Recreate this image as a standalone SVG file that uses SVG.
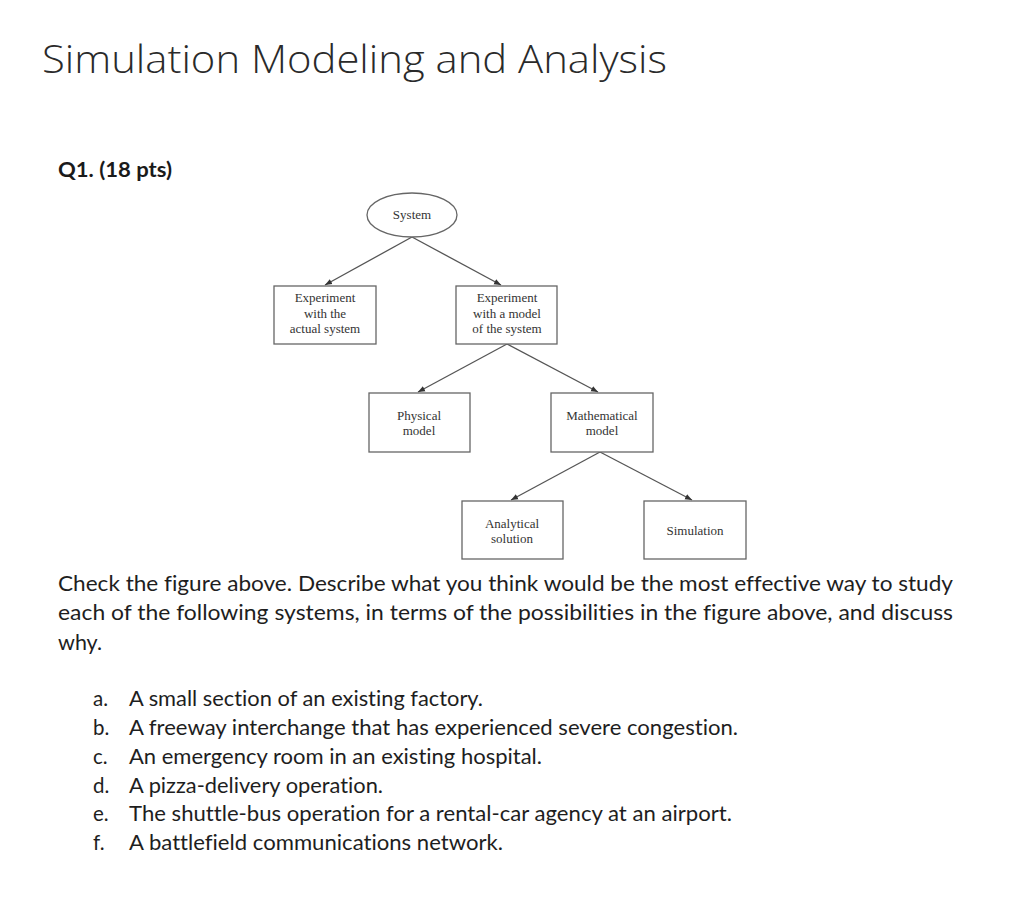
<svg xmlns="http://www.w3.org/2000/svg" width="1025" height="919" viewBox="0 0 1025 919">
<style>
.title{font-family:"Open Sans","Liberation Sans",sans-serif;font-weight:300;font-size:38px;fill:#2a2a2a}
.q{font-family:"Lato","Open Sans","Liberation Sans",sans-serif;font-weight:700;font-size:20px;fill:#1a1a1a}
.body{font-family:"Lato","Open Sans","Liberation Sans",sans-serif;font-size:20.5px;fill:#1e1e1e;font-variant-ligatures:none;font-feature-settings:"liga" 0,"dlig" 0}
.n{font-family:"Liberation Serif","Times New Roman",serif;font-size:13px;fill:#333;text-anchor:middle}
.box{fill:#fff;stroke:#666;stroke-width:1.3}
.edge{stroke:#555;stroke-width:1.3;fill:none;marker-end:url(#ah)}
</style>
<defs>
<marker id="ah" viewBox="0 0 10 10" refX="10" refY="5" markerWidth="7" markerHeight="7" markerUnits="userSpaceOnUse" orient="auto">
<path d="M0,1 L10,5 L0,9 Z" fill="#333"/>
</marker>
</defs>
<rect width="1025" height="919" fill="#fff"/>
<text class="title" x="42" y="73" textLength="625" lengthAdjust="spacingAndGlyphs">Simulation Modeling and Analysis</text>
<text class="q" x="58" y="177" textLength="114" lengthAdjust="spacingAndGlyphs">Q1. (18 pts)</text>

<g id="connectors">
<line class="edge" x1="412" y1="237" x2="325" y2="285"/>
<line class="edge" x1="412" y1="237" x2="501" y2="285"/>
<line class="edge" x1="507" y1="344" x2="418" y2="392"/>
<line class="edge" x1="507" y1="344" x2="598" y2="392"/>
<line class="edge" x1="600" y1="452" x2="511" y2="500"/>
<line class="edge" x1="600" y1="452" x2="692" y2="500"/>
</g>

<g id="system">
<ellipse class="box" cx="412" cy="215" rx="45" ry="22"/>
<text class="n" x="412" y="219">System</text>
</g>
<g id="actual">
<rect class="box" x="274" y="286" width="102" height="58"/>
<text class="n" x="325" y="302">Experiment</text>
<text class="n" x="325" y="318">with the</text>
<text class="n" x="325" y="333">actual system</text>
</g>
<g id="model">
<rect class="box" x="456" y="286" width="101" height="58"/>
<text class="n" x="507" y="302">Experiment</text>
<text class="n" x="507" y="318">with a model</text>
<text class="n" x="507" y="333">of the system</text>
</g>
<g id="physical">
<rect class="box" x="369" y="393" width="101" height="59"/>
<text class="n" x="419" y="420">Physical</text>
<text class="n" x="419" y="435">model</text>
</g>
<g id="mathematical">
<rect class="box" x="551" y="393" width="102" height="59"/>
<text class="n" x="602" y="420">Mathematical</text>
<text class="n" x="602" y="435">model</text>
</g>
<g id="analytical">
<rect class="box" x="462" y="501" width="101" height="58"/>
<text class="n" x="512" y="528">Analytical</text>
<text class="n" x="512" y="543">solution</text>
</g>
<g id="simulation">
<rect class="box" x="644" y="501" width="102" height="58"/>
<text class="n" x="695" y="535">Simulation</text>
</g>

<text class="body" x="58" y="591" textLength="895" lengthAdjust="spacingAndGlyphs">Check the figure above. Describe what you think would be the most effective way to study</text>
<text class="body" x="58" y="620" textLength="895" lengthAdjust="spacingAndGlyphs">each of the following systems, in terms of the possibilities in the figure above, and discuss</text>
<text class="body" x="58" y="650" textLength="44" lengthAdjust="spacingAndGlyphs">why.</text>

<text class="body" x="93" y="706">a.</text>
<text class="body" x="129" y="706" textLength="354" lengthAdjust="spacingAndGlyphs">A small section of an existing factory.</text>
<text class="body" x="93" y="735">b.</text>
<text class="body" x="129" y="735" textLength="609" lengthAdjust="spacingAndGlyphs">A freeway interchange that has experienced severe congestion.</text>
<text class="body" x="93" y="764">c.</text>
<text class="body" x="129" y="764" textLength="413" lengthAdjust="spacingAndGlyphs">An emergency room in an existing hospital.</text>
<text class="body" x="93" y="793">d.</text>
<text class="body" x="129" y="793" textLength="254" lengthAdjust="spacingAndGlyphs">A pizza-delivery operation.</text>
<text class="body" x="93" y="821">e.</text>
<text class="body" x="129" y="821" textLength="603" lengthAdjust="spacingAndGlyphs">The shuttle-bus operation for a rental-car agency at an airport.</text>
<text class="body" x="93" y="850">f.</text>
<text class="body" x="129" y="850" textLength="374" lengthAdjust="spacingAndGlyphs">A battlefield communications network.</text>
</svg>
